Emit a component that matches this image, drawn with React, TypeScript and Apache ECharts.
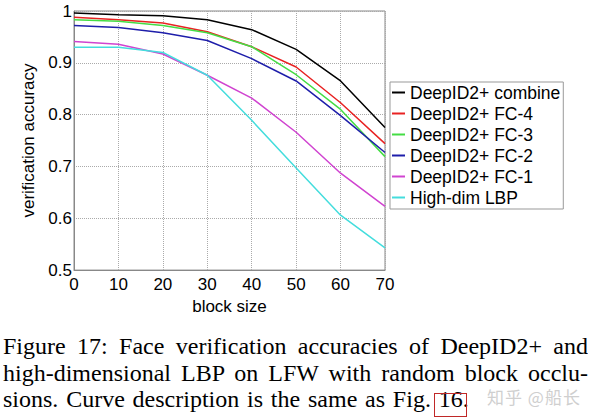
import React, { useEffect, useRef } from "react";
import * as echarts from "echarts";

const blockSizes = [0, 10, 20, 30, 40, 50, 60, 70];
const seriesNames = [
  "DeepID2+ combine",
  "DeepID2+ FC-4",
  "DeepID2+ FC-3",
  "DeepID2+ FC-2",
  "DeepID2+ FC-1",
  "High-dim LBP",
];
const combine = [0.996, 0.993, 0.991, 0.983, 0.964, 0.926, 0.865, 0.775];
const fc4 = [0.988, 0.983, 0.977, 0.96, 0.931, 0.892, 0.823, 0.744];
const fc3 = [0.983, 0.98, 0.972, 0.958, 0.931, 0.877, 0.81, 0.719];
const fc2 = [0.972, 0.968, 0.958, 0.943, 0.908, 0.865, 0.798, 0.727];
const fc1 = [0.941, 0.936, 0.917, 0.876, 0.832, 0.766, 0.687, 0.623];
const lbp = [0.93, 0.93, 0.92, 0.876, 0.789, 0.697, 0.606, 0.543];
const colors = ["#000000", "#e82222", "#44dd44", "#1e1eaa", "#d044d0", "#44dddd"];

export default function App() {
  const ref = useRef<HTMLDivElement>(null);
  useEffect(() => {
    if (!ref.current) return;
    const chart = echarts.init(ref.current, undefined, { renderer: "svg" });
    const all = [combine, fc4, fc3, fc2, fc1, lbp];
    const font = "Liberation Sans, Arial, sans-serif";
    chart.setOption({
      animation: false,
      grid: {
        left: 74,
        top: 11,
        width: 311,
        height: 266,
        show: true,
        borderColor: "#888",
        borderWidth: 1,
        backgroundColor: "#fff",
      },
      legend: {
        orient: "vertical",
        left: 390,
        top: 82,
        padding: [0, 3, 1, 2],
        itemGap: 0,
        itemWidth: 13,
        itemHeight: 2,
        icon: "rect",
        borderColor: "#999",
        borderWidth: 1,
        backgroundColor: "#fff",
        textStyle: { fontFamily: font, fontSize: 17.5, color: "#000", lineHeight: 21 },
        data: seriesNames,
      },
      xAxis: {
        type: "value",
        min: 0,
        max: 70,
        interval: 10,
        name: "block size",
        nameLocation: "middle",
        nameGap: 19,
        nameTextStyle: { fontFamily: font, fontSize: 17, color: "#000" },
        axisLine: { lineStyle: { color: "#888" } },
        axisTick: { show: false },
        axisLabel: { fontFamily: font, fontSize: 17, color: "#000", margin: 6 },
        splitLine: { lineStyle: { color: "#aaa", type: "dotted" } },
      },
      yAxis: {
        type: "value",
        min: 0.5,
        max: 1,
        interval: 0.1,
        name: "verification accuracy",
        nameLocation: "middle",
        nameGap: 22,
        nameTextStyle: { fontFamily: font, fontSize: 17, color: "#000" },
        axisLine: { show: true, lineStyle: { color: "#888" } },
        axisTick: { show: false },
        axisLabel: {
          fontFamily: font,
          fontSize: 17,
          color: "#000",
          margin: 2,
          formatter: (v: number) => (Math.abs(v - 1) < 1e-9 ? "1" : v.toFixed(1)),
        },
        splitLine: { lineStyle: { color: "#aaa", type: "dotted" } },
      },
      series: seriesNames.map((name, i) => ({
        name,
        type: "line",
        symbol: "none",
        color: colors[i],
        lineStyle: { width: 1.5, color: colors[i] },
        data: blockSizes.map((x, j) => [x, all[i][j]]),
      })),
    });
    return () => chart.dispose();
  }, []);

  const serif = "'Liberation Serif', 'Times New Roman', serif";
  const lineBase: React.CSSProperties = {
    height: "26.7px",
    lineHeight: "26.7px",
    whiteSpace: "nowrap",
  };
  const justified: React.CSSProperties = {
    ...lineBase,
    textAlign: "justify",
    textAlignLast: "justify",
    whiteSpace: "normal",
    overflow: "hidden",
  };

  return (
    <div style={{ position: "fixed", left: 0, top: 0, width: 595, height: 419, background: "#fff", overflow: "hidden" }}>
      <div ref={ref} style={{ position: "absolute", left: 0, top: 0, width: 595, height: 320 }} />
      <div
        style={{
          position: "absolute",
          left: 3,
          top: 333,
          width: 585,
          fontFamily: serif,
          fontSize: 24,
          color: "#000",
        }}
      >
        <div style={justified}>Figure 17: Face verification accuracies of DeepID2+ and</div>
        <div style={justified}>high-dimensional LBP on LFW with random block occlu-</div>
        <div style={{ ...lineBase, wordSpacing: "1.8px" }}>
          <span>sions. Curve description is the same as Fig. </span>
          <span style={{ position: "relative" }}>
            16
            <span
              style={{
                position: "absolute",
                left: -5,
                right: -4,
                top: 7,
                bottom: -5,
                border: "1.5px solid #c02828",
              }}
            />
          </span>
          .
        </div>
      </div>
      <div
        style={{
          position: "absolute",
          left: 487,
          top: 388,
          height: 17,
          lineHeight: "17px",
          fontFamily: "'Noto Sans CJK SC', sans-serif",
          fontSize: 17,
          letterSpacing: "1px",
          color: "#cfcfcf",
          whiteSpace: "nowrap",
        }}
      >
        知乎 @船长
      </div>
    </div>
  );
}
